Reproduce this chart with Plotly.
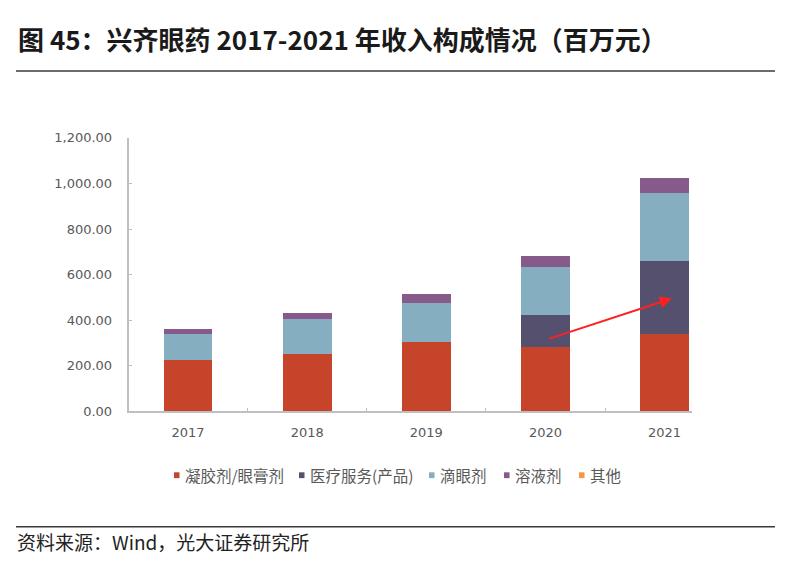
import plotly.graph_objects as go

# page is 791x571; the html body has an 8px margin, so the figure is 775x555 offset by 8px
PAGE_W, PAGE_H = 791, 571
OFF = 8
W, H = PAGE_W - 2 * OFF, PAGE_H - 2 * OFF

years = ["2017", "2018", "2019", "2020", "2021"]
gel = [225, 253, 302, 282, 340]          # 凝胶剂/眼膏剂
medical = [0, 0, 0, 142, 320]            # 医疗服务(产品)
drops = [115, 154, 173, 210, 299]        # 滴眼剂
solution = [20, 25, 39, 49, 67]          # 溶液剂
other = [0, 0, 0, 0, 0]                  # 其他

series_names = ["凝胶剂/眼膏剂", "医疗服务(产品)", "滴眼剂", "溶液剂", "其他"]
series_values = [gel, medical, drops, solution, other]
series_colors = ["#C5442A", "#56506F", "#86AEC1", "#865A8A", "#F79646"]

y_ticks = [0, 200, 400, 600, 800, 1000, 1200]

title_text = "图 45：兴齐眼药 2017-2021 年收入构成情况（百万元）"
source_text = "资料来源：Wind，光大证券研究所"

# legend marker left edges (page px), layout only
legend_x = [174, 299, 429, 504, 579]


def px_x(p):
    return (p - OFF) / W


def px_y(p):
    return 1 - (p - OFF) / H


fig = go.Figure()
for name, vals, col in zip(series_names, series_values, series_colors):
    fig.add_trace(go.Bar(x=years, y=vals, name=name, marker_color=col,
                         marker_line_width=0, width=0.41, showlegend=False))

axis_gray = "#BFBFBF"
label_gray = "#595959"
cjk = "Noto Sans CJK SC"

annotations = [
    dict(text=title_text, xref="paper", yref="paper", x=px_x(16), y=px_y(32),
         xanchor="left", yanchor="middle", showarrow=False,
         font=dict(family=cjk, size=26, color="#1A1A1A", weight="bold")),
    dict(text=source_text, xref="paper", yref="paper", x=px_x(15), y=px_y(549),
         xanchor="left", yanchor="middle", showarrow=False,
         font=dict(family=cjk, size=19, color="#222222")),
    dict(x=4.06, y=495, ax=3.02, ay=317, xref="x", yref="y", axref="x", ayref="y",
         text="", showarrow=True, arrowhead=2, arrowsize=1.2, arrowwidth=2,
         arrowcolor="#FF2020"),
]
shapes = [
    dict(type="line", xref="paper", yref="paper", x0=px_x(16), x1=px_x(775),
         y0=px_y(65.5), y1=px_y(65.5), line=dict(color="#3A3A3A", width=1.6)),
    dict(type="line", xref="paper", yref="paper", x0=px_x(16), x1=px_x(775),
         y0=px_y(534), y1=px_y(534), line=dict(color="#3A3A3A", width=1.6)),
]

# custom legend (small squares + labels) built from the series lists
for lx, name, col in zip(legend_x, series_names, series_colors):
    shapes.append(dict(type="rect", xref="paper", yref="paper",
                       x0=px_x(lx), x1=px_x(lx + 5.5), y0=px_y(484), y1=px_y(478),
                       fillcolor=col, line=dict(width=0)))
    annotations.append(dict(text=name, xref="paper", yref="paper", x=px_x(lx + 9),
                            y=px_y(481), xanchor="left", yanchor="middle", showarrow=False,
                            font=dict(family=cjk, size=15.5, color=label_gray)))

fig.update_layout(
    width=W, height=H,
    margin=dict(l=0, r=0, t=0, b=0),
    paper_bgcolor="white", plot_bgcolor="white",
    barmode="stack",
    showlegend=False,
    xaxis=dict(domain=[px_x(128.5), px_x(692)], type="category", range=[-0.5, 4.23],
               showline=True, linecolor=axis_gray, linewidth=1.5,
               ticks="inside", tickson="boundaries", ticklen=4, tickcolor=axis_gray,
               ticklabelstandoff=8,
               tickfont=dict(family="DejaVu Sans", size=13, color=label_gray),
               showgrid=False, zeroline=False),
    yaxis=dict(domain=[px_y(415.3), px_y(134.3)], range=[0, 1200],
               tickvals=y_ticks, tickformat=",.2f",
               showline=True, linecolor=axis_gray, linewidth=1.5,
               ticks="inside", ticklen=4, tickcolor=axis_gray,
               ticklabelstandoff=12,
               tickfont=dict(family="DejaVu Sans", size=13, color=label_gray),
               showgrid=False, zeroline=False),
    annotations=annotations,
    shapes=shapes,
)

fig.write_html("out.html")
